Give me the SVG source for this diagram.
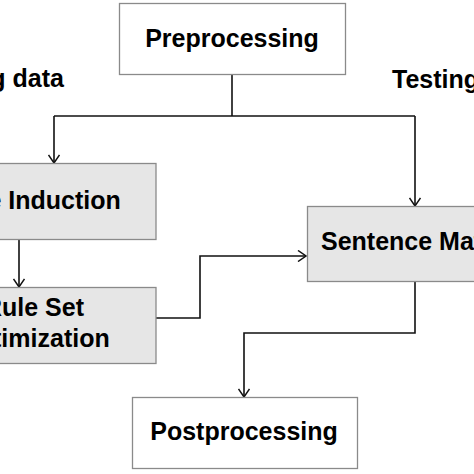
<svg xmlns="http://www.w3.org/2000/svg" width="474" height="474" viewBox="0 0 474 474">
<defs>
<style>
.box{stroke:#8a8a8a;stroke-width:1.3}
.w{fill:#ffffff}
.g{fill:#e6e6e6}
.t{font-family:"Liberation Sans",Arial,sans-serif;font-weight:bold;font-size:25px;fill:#000}
.c{fill:none;stroke:#111;stroke-width:1.6}
</style>
<marker id="ah" viewBox="0 0 10 12" refX="9" refY="6" markerWidth="10" markerHeight="12" markerUnits="userSpaceOnUse" orient="auto">
<path d="M1,0.5 L9,6 L1,11.5" fill="none" stroke="#111" stroke-width="1.5"/>
</marker>
</defs>
<rect width="474" height="474" fill="#fff"/>
<g id="connectors">
<path class="c" d="M232,75 V116"/>
<path class="c" d="M54,116 H415"/>
<path class="c" d="M54,116 V163" marker-end="url(#ah)"/>
<path class="c" d="M415,116 V206" marker-end="url(#ah)"/>
<path class="c" d="M19,240 V287" marker-end="url(#ah)"/>
<path class="c" d="M156,318 H200 V256 H306" marker-end="url(#ah)"/>
<path class="c" d="M415,281 V333 H244 V397" marker-end="url(#ah)"/>
</g>
<g id="preprocessing">
<rect class="box w" x="119.5" y="3.5" width="226" height="71"/>
<text class="t" x="232" y="47" text-anchor="middle">Preprocessing</text>
</g>
<g id="training-label">
<text class="t" x="64" y="87" text-anchor="end">Training data</text>
</g>
<g id="testing-label">
<text class="t" x="392" y="88">Testing data</text>
</g>
<g id="rule-induction">
<rect class="box g" x="-90" y="163.5" width="246" height="76"/>
<text class="t" x="34" y="209" text-anchor="middle">Rule Induction</text>
</g>
<g id="rule-set-optimization">
<rect class="box g" x="-90" y="287.5" width="246" height="76"/>
<text class="t" x="34" y="316" text-anchor="middle">Rule Set</text>
<text class="t" x="34" y="347" text-anchor="middle">Optimization</text>
</g>
<g id="sentence-matching">
<rect class="box g" x="307.5" y="206.5" width="250" height="75"/>
<text class="t" x="321" y="250">Sentence Matching</text>
</g>
<g id="postprocessing">
<rect class="box w" x="132.5" y="397.5" width="225" height="71"/>
<text class="t" x="244" y="440" text-anchor="middle">Postprocessing</text>
</g>
</svg>
